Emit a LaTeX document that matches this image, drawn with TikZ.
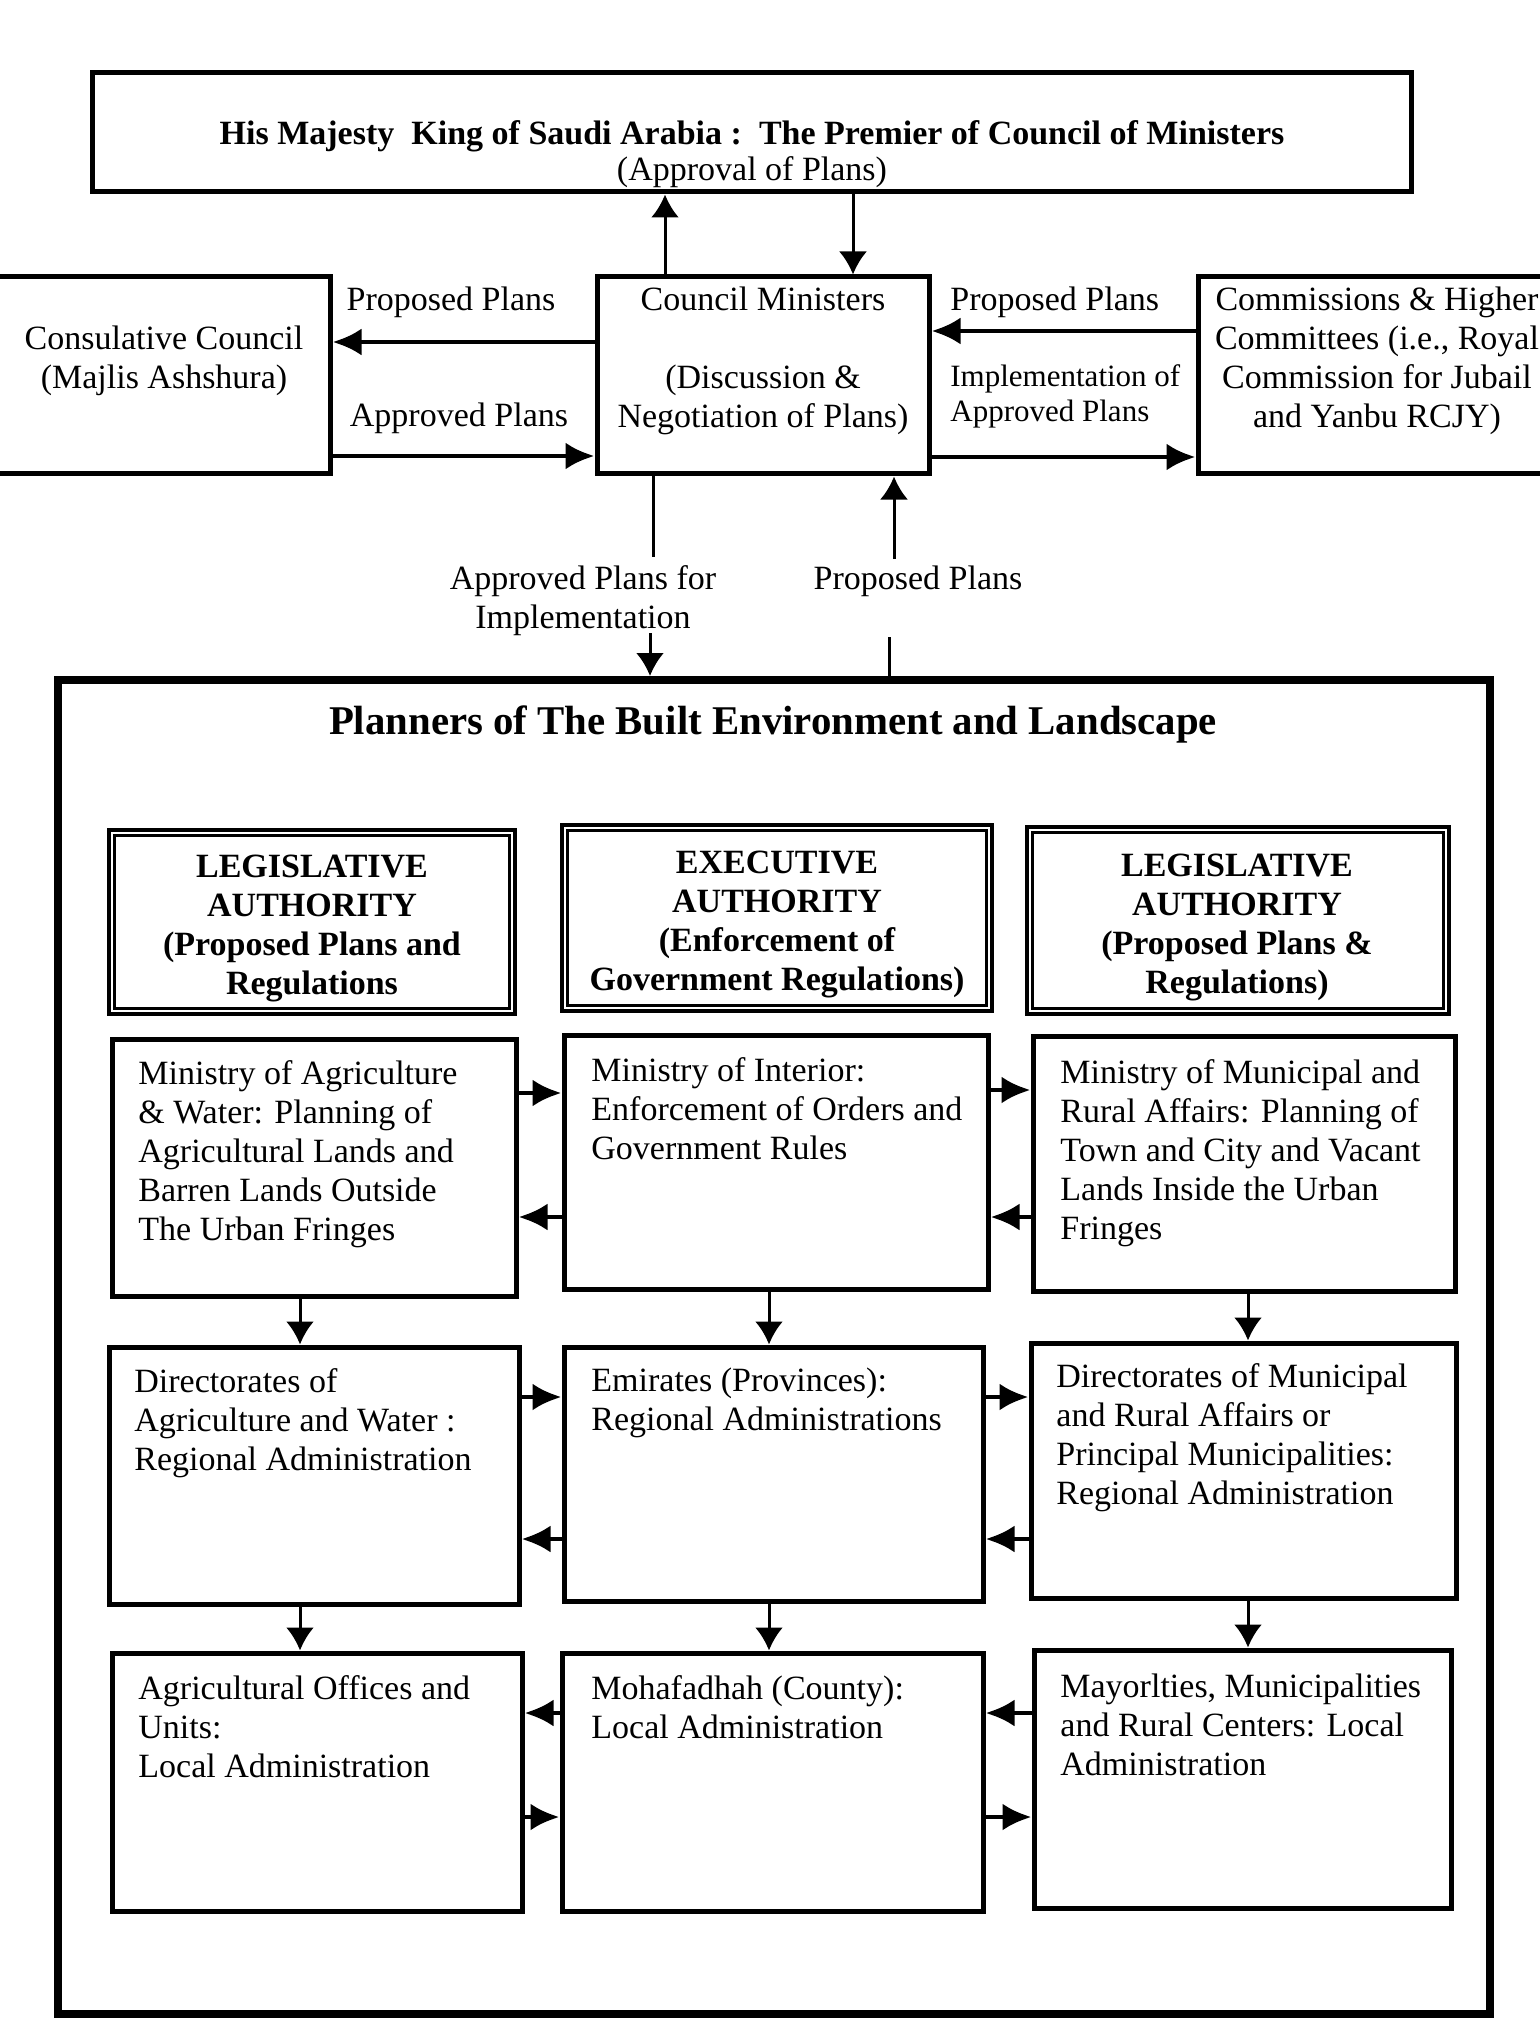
\documentclass[tikz,border=0pt]{standalone}
\usepackage{fontspec}
\setmainfont{Liberation Serif}
\usetikzlibrary{arrows.meta,calc}
\newcommand\mkbox[6]{%
  \pgfmathsetmacro\bxw{(#5-#3)*0.5}%
  \pgfmathsetmacro\bxh{(#6-#4)*0.5}%
  \node[#1, minimum width=\bxw pt, minimum height=\bxh pt] (#2) at ({(#3+#5)/2},{(#4+#6)/2}) {};%
}
\tikzset{
 box/.style={draw, line width=2.5pt, rectangle, inner sep=0pt},
 bigbox/.style={draw, line width=4pt, rectangle, inner sep=0pt},
 hdr/.style={draw, line width=2pt, rectangle, inner sep=0pt},
 hdrin/.style={line width=1.1pt},
 txt/.style={font=\fontsize{17}{19.5}\selectfont, inner sep=0pt, align=left, anchor=north west},
 ctxt/.style={font=\fontsize{17}{19.5}\selectfont, inner sep=0pt, align=center, anchor=north},
 btxt/.style={ctxt, font=\fontsize{17}{19.5}\selectfont\bfseries},
 small/.style={font=\fontsize{15.5}{17.5}\selectfont, inner sep=0pt, align=left, anchor=north west},
 harr/.style={line width=2.4pt, -{Latex[length=14.5pt,width=13.5pt]}},
 varr/.style={line width=1.5pt, -{Latex[length=11.5pt,width=14pt]}},
 vline/.style={line width=1.5pt},
}
\begin{document}
\begin{tikzpicture}[x=0.5pt,y=-0.5pt]
\useasboundingbox (0,0) rectangle (1540,2027);
\clip (0,0) rectangle (1540,2027);
% top level boxes
\mkbox{box}{king}{92}{73}{1411}{192}
\mkbox{box}{cons}{-20}{277}{330}{474}
\mkbox{box}{coun}{597}{277}{929}{474}
\mkbox{box}{comm}{1198}{277}{1580}{474}
\mkbox{bigbox}{plan}{58}{680}{1490}{2014}
% headers
\mkbox{hdr}{h1}{109}{830}{515}{1014}
\mkbox{hdr}{h2}{562}{825}{992}{1011}
\mkbox{hdr}{h3}{1027}{827}{1449}{1014}
\draw[hdrin] ($(h1.north west)+(7.5,7.5)$) rectangle ($(h1.south east)+(-7.5,-7.5)$);
\draw[hdrin] ($(h2.north west)+(7.5,7.5)$) rectangle ($(h2.south east)+(-7.5,-7.5)$);
\draw[hdrin] ($(h3.north west)+(7.5,7.5)$) rectangle ($(h3.south east)+(-7.5,-7.5)$);
% rows
\mkbox{box}{r1l}{112}{1039}{516}{1296}
\mkbox{box}{r1m}{564}{1035}{988}{1289}
\mkbox{box}{r1r}{1033}{1036}{1455}{1291}
\mkbox{box}{r2l}{109}{1347}{519}{1604}
\mkbox{box}{r2m}{564}{1347}{983}{1601}
\mkbox{box}{r2r}{1031}{1343}{1456}{1598}
\mkbox{box}{r3l}{112}{1653}{522}{1911}
\mkbox{box}{r3m}{562}{1653}{983}{1911}
\mkbox{box}{r3r}{1034}{1650}{1451}{1908}
% texts top
\node[btxt, font=\fontsize{17}{18}\selectfont] (tking) at (752,119) {\strut\textbf{His Majesty\ \ King of Saudi Arabia :\ \ The Premier of Council of Ministers}\\(Approval of Plans)};
\node[ctxt] (tcons) at (164,322) {\strut Consulative Council\\(Majlis Ashshura)};
\node[ctxt] (tcoun) at (763,283) {\strut Council Ministers\\ \\(Discussion \&\\Negotiation of Plans)};
\node[ctxt] (tcomm) at (1377,283) {\strut Commissions \& Higher\\Committees (i.e., Royal\\Commission for Jubail\\and Yanbu RCJY)};
\node[ctxt] (lpp1) at (451,283) {\strut Proposed Plans};
\node[ctxt] (lap1) at (459,399) {\strut Approved Plans};
\node[txt] (lpp2) at (950,283) {\strut Proposed Plans};
\node[small] (limp) at (950,362) {\strut Implementation of\\Approved Plans};
\node[ctxt] (lapi) at (583,562) {\strut Approved Plans for\\Implementation};
\node[ctxt] (lpp3) at (918,562) {\strut Proposed Plans};
\node[font=\fontsize{20.4}{24}\selectfont\bfseries, inner sep=0pt, anchor=base] (tplan) at (773,734) {Planners of The Built Environment and Landscape};
% headers text
\node[btxt] (th1) at (312,850) {\strut LEGISLATIVE\\AUTHORITY\\(Proposed Plans and\\Regulations};
\node[btxt] (th2) at (777,846) {\strut EXECUTIVE\\AUTHORITY\\(Enforcement of\\Government Regulations)};
\node[btxt] (th3) at (1237,849) {\strut LEGISLATIVE\\AUTHORITY\\(Proposed Plans \&\\Regulations)};
% rows text
\node[txt] (t1l) at (138,1057) {\strut Ministry of Agriculture\\\& Water: Planning of\\Agricultural Lands and\\Barren Lands Outside\\The Urban Fringes};
\node[txt] (t1m) at (591,1054) {\strut Ministry of Interior:\\Enforcement of Orders and\\Government Rules};
\node[txt] (t1r) at (1060,1056) {\strut Ministry of Municipal and\\Rural Affairs: Planning of\\Town and City and Vacant\\Lands Inside the Urban\\Fringes};
\node[txt] (t2l) at (134,1365) {\strut Directorates of\\Agriculture and Water :\\Regional Administration};
\node[txt] (t2m) at (591,1364) {\strut Emirates (Provinces):\\Regional Administrations};
\node[txt] (t2r) at (1056,1360) {\strut Directorates of Municipal\\and Rural Affairs or\\Principal Municipalities:\\Regional Administration};
\node[txt] (t3l) at (138,1672) {\strut Agricultural Offices and\\Units:\\Local Administration};
\node[txt] (t3m) at (591,1672) {\strut Mohafadhah (County):\\Local Administration};
\node[txt] (t3r) at (1060,1670) {\strut Mayorlties, Municipalities\\and Rural Centers: Local\\Administration};
% top connectors
\draw[varr] (coun.north -| 665,0) -- (king.south -| 665,0);
\draw[varr] (king.south -| 853,0) -- (coun.north -| 853,0);
\draw[harr] (coun.west |- 0,342) -- (cons.east |- 0,342);
\draw[harr] (cons.east |- 0,456) -- (coun.west |- 0,456);
\draw[harr] (comm.west |- 0,331) -- (coun.east |- 0,331);
\draw[harr] (coun.east |- 0,457) -- (comm.west |- 0,457);
\coordinate (c1) at (653,557);
\coordinate (c2) at (650,633);
\coordinate (c3) at (894,559);
\coordinate (c4) at (889,637);
\draw[vline] (coun.south -| c1) -- (c1);
\draw[varr] (c2) -- (plan.north -| c2);
\draw[varr] (c3) -- (coun.south -| c3);
\draw[vline] (plan.north -| c4) -- (c4);
% row horizontal connectors
\draw[harr] (r1l.east |- 0,1093) -- (r1m.west |- 0,1093);
\draw[harr] (r1m.west |- 0,1217) -- (r1l.east |- 0,1217);
\draw[harr] (r1m.east |- 0,1090) -- (r1r.west |- 0,1090);
\draw[harr] (r1r.west |- 0,1217) -- (r1m.east |- 0,1217);
\draw[harr] (r2l.east |- 0,1397) -- (r2m.west |- 0,1397);
\draw[harr] (r2m.east |- 0,1397) -- (r2r.west |- 0,1397);
\draw[harr] (r2m.west |- 0,1539) -- (r2l.east |- 0,1539);
\draw[harr] (r2r.west |- 0,1539) -- (r2m.east |- 0,1539);
\draw[harr] (r3m.west |- 0,1713) -- (r3l.east |- 0,1713);
\draw[harr] (r3r.west |- 0,1713) -- (r3m.east |- 0,1713);
\draw[harr] (r3l.east |- 0,1817) -- (r3m.west |- 0,1817);
\draw[harr] (r3m.east |- 0,1817) -- (r3r.west |- 0,1817);
% vertical connectors
\draw[varr] (r1l.south -| 300,0) -- (r2l.north -| 300,0);
\draw[varr] (r2l.south -| 300,0) -- (r3l.north -| 300,0);
\draw[varr] (r1m.south -| 769,0) -- (r2m.north -| 769,0);
\draw[varr] (r2m.south -| 769,0) -- (r3m.north -| 769,0);
\draw[varr] (r1r.south -| 1248,0) -- (r2r.north -| 1248,0);
\draw[varr] (r2r.south -| 1248,0) -- (r3r.north -| 1248,0);
\end{tikzpicture}
\end{document}
